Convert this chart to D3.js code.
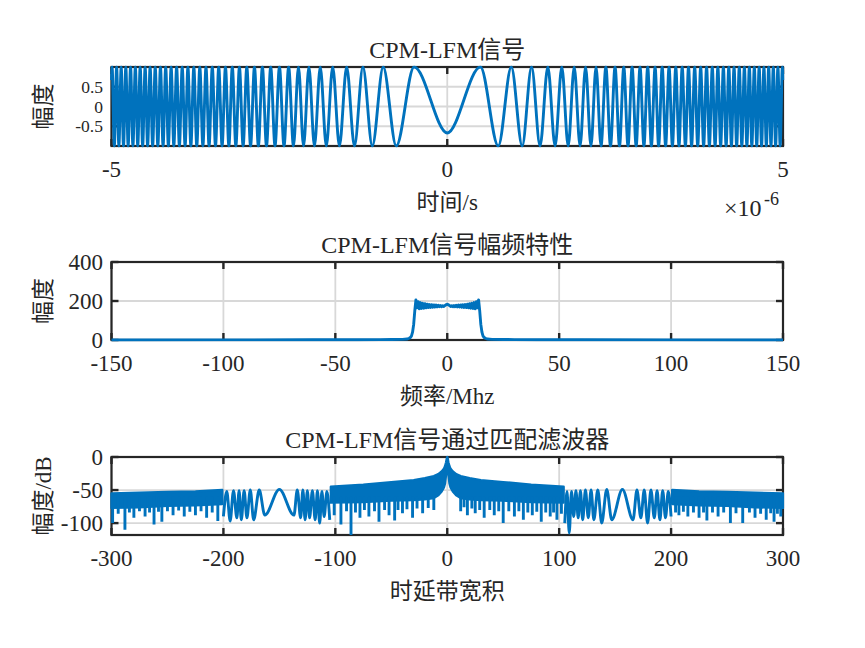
<!DOCTYPE html>
<html><head><meta charset="utf-8">
<script src="https://cdn.jsdelivr.net/npm/d3@7/dist/d3.min.js"></script>
<style>
body{margin:0;background:#fff}
svg{display:block}
text{font-family:"Liberation Serif","Times New Roman","Noto Sans CJK SC",serif;fill:#262626}
</style>
</head><body><svg id="c" width="865" height="648"></svg>
<script>
// ---------------- DATA ----------------
// Panel 1: CPM-LFM signal, extremum times (µs, positive side; mirrored) and values
const topExtT = [0.494,0.760,0.954,1.116,1.256,1.382,1.498,1.606,1.706,1.801,
  1.891,1.978,2.060,2.140,2.216,2.290,2.362,2.431,2.499,2.565,
  2.629,2.692,2.753,2.813,2.871,2.929,2.985,3.040,3.095,3.148,
  3.201,3.252,3.303,3.353,3.403,3.451,3.499,3.547,3.593,3.639,
  3.685,3.730,3.774,3.818,3.862,3.904,3.947,3.989,4.030,4.072,
  4.112,4.153,4.193,4.232,4.271,4.310,4.349,4.387,4.425,4.462,
  4.499,4.536,4.573,4.609,4.645,4.681,4.716,4.752,4.787,4.821,
  4.856,4.890,4.924,4.958,4.991];
const topExtV = [1,-1,1,-1,1,-1,1,-1,1,-1, 1,-1,1,-1,1,-1,1,-1,1,-1,
  1,-1,1,-1,1,-1,1,-1,1,-1, 1,-1,1,-1,1,-1,1,-1,1,-1,
  1,-1,1,-1,1,-1,1,-1,1,-1, 1,-1,1,-1,1,-1,1,-1,1,-1,
  1,-1,1,-1,1,-1,1,-1,1,-1, 1,-1,1,-1,1];
const topCenter = [0, -0.67];
const topEdge = [5, 0.67];
const topXTicks = [-5, 0, 5];
const topYTicks = [-0.5, 0, 0.5];

// Panel 2: amplitude spectrum [MHz, amplitude]
const spectrum = [[-150,0],[-100,0.5],[-60,1],[-40,1.5],[-30,2],[-25,2.5],[-20,3],[-18,5],[-17,9],[-16.5,13],
  [-16,20],[-15.5,40],[-15,80],[-14.5,150],[-14,205],[-13.5,165],[-13,196],[-12.5,160],[-12,192],[-11.5,162],
  [-11,188],[-10.5,163],[-10,186],[-9.5,165],[-9,184],[-8.5,166],[-8,182],[-7.5,167],[-7,181],[-6.5,168],
  [-6,180],[-5.5,169],[-5,179],[-4.5,170],[-4,178],[-3.5,171],[-3,177],[-2.5,171],[-2,176],[-1.5,172],
  [-1,177],[-0.5,181],[0,183],[0.5,181],[1,177],[1.5,172],[2,176],[2.5,171],[3,177],[3.5,171],
  [4,178],[4.5,170],[5,179],[5.5,169],[6,180],[6.5,168],[7,181],[7.5,167],[8,182],[8.5,166],
  [9,184],[9.5,165],[10,186],[10.5,163],[11,188],[11.5,162],[12,192],[12.5,160],[13,196],[13.5,165],
  [14,205],[14.5,150],[15,80],[15.5,40],[16,20],[16.5,13],[17,9],[18,5],[20,3],[25,2.5],
  [30,2],[40,1.5],[60,1],[100,0.5],[150,0]];
const midXTicks = [-150,-100,-50,0,50,100,150];
const midYTicks = [0,200,400];

// Panel 3: matched filter output (dB). Dense band [x, upper, lower] (x>=0, mirrored)
const mfBandInner = [[0,0,-4],[0.5,-3,-12],[1,-8,-26],[2,-14,-40],[3,-18,-46],[5,-22,-52],[8,-26,-58],
  [12,-29,-62],[20,-32,-64],[30,-35,-65],[50,-38,-66],[75,-42,-68],[104,-45,-69]];
const mfBandOuter = [[201,-50,-71],[225,-52,-73],[250,-53,-74],[275,-54,-76],[300,-55,-77]];
const mfArchesRight = [[105,-100],[107,-52],[109,-115],[111,-52],[113,-90],[115,-51],[117,-92],[119,-51],
  [121,-95],[123.5,-50],[126,-92],[128.5,-50],[131,-95],[134.5,-50],[138,-100],[142.5,-49],[147,-95],
  [156.5,-49],[166,-95],[169.5,-50],[173,-92],[176,-50],[179,-100],[182,-50],[185,-92],[187.5,-51],
  [190,-95],[192.5,-51],[195,-92],[197.5,-52],[200,-90]];
const mfArchesLeft = [[-200,-90],[-197,-52],[-194,-97],[-191,-51],[-188,-92],[-186,-51],[-184,-95],
  [-181.5,-51],[-179,-92],[-176,-50],[-173,-95],[-168,-50],[-163,-88],[-150,-49],[-137,-88],[-134,-50],
  [-131,-92],[-129,-50],[-127,-95],[-125,-51],[-123,-92],[-120.5,-51],[-118,-95],[-116,-51],[-114,-100],
  [-112,-52],[-110,-90],[-107.5,-52],[-105,-95]];
const mfSpikes = [[-299,-100],[-294,-86],[-288,-110],[-284,-84],[-280,-92],[-275,-82],[-270,-90],[-266,-84],
  [-262,-102],[-258,-83],[-255,-98],[-250,-82],[-245,-88],[-240,-81],[-235,-90],[-230,-83],[-225,-88],
  [-220,-82],[-215,-92],[-210,-84],[-205,-97],[-101,-88],[-95,-102],[-90,-82],[-86,-118],[-82,-84],
  [-78,-92],[-74,-80],[-70,-90],[-65,-82],[-61,-98],[-56,-80],[-52,-88],[-47,-96],[-44,-80],[-40,-85],
  [-36,-79],[-31,-92],[-27,-78],[-22,-85],[-17,-77],[-12,-80],[12,-82],[15,-76],[18,-88],[22,-78],
  [25,-85],[29,-80],[33,-92],[38,-80],[42,-88],[46,-82],[50,-100],[55,-82],[60,-90],[64,-82],[68,-95],
  [72,-84],[76,-88],[80,-83],[84,-98],[88,-84],[92,-90],[95,-84],[98,-95],[102,-86],[204,-84],[207,-88],
  [211,-83],[215,-90],[220,-84],[225,-92],[229,-84],[232,-96],[237,-84],[242,-90],[247,-84],[253,-100],
  [258,-85],[264,-100],[270,-84],[275,-92],[280,-86],[285,-95],[289,-85],[292,-98],[295,-86],[298,-90]];
const botXTicks = [-300,-200,-100,0,100,200,300];
const botYTicks = [-100,-50,0];

// ---------------- DRAW ----------------
const svg = d3.select('#c');
svg.append('rect').attr('width',865).attr('height',648).attr('fill','#fff');
const L = 111.5, R = 783, CX = (L+R)/2;
const BLUE = '#0072BD', AX = '#262626', GRID = '#d8d8d8';
const FS = 23, LW = 2.9;

function makeAxes(idx, top, bottom, xDom, yDom, xTicks, yTicks, title, ylabel, xlabel, yFs) {
  const x = d3.scaleLinear().domain(xDom).range([L, R]);
  const y = d3.scaleLinear().domain(yDom).range([bottom, top]);
  const g = svg.append('g');
  g.selectAll('.gx').data(xTicks).join('line')
    .attr('x1', d=>x(d)).attr('x2', d=>x(d)).attr('y1', top).attr('y2', bottom)
    .attr('stroke', GRID).attr('stroke-width', 1.8);
  g.selectAll('.gy').data(yTicks).join('line').attr('class','gy')
    .attr('x1', L).attr('x2', R).attr('y1', d=>y(d)).attr('y2', d=>y(d))
    .attr('stroke', GRID).attr('stroke-width', 1.8);
  g.append('rect').attr('x', L).attr('y', top).attr('width', R-L).attr('height', bottom-top)
    .attr('fill','none').attr('stroke', AX).attr('stroke-width', 2.2);
  const tl = 7;
  xTicks.forEach(d => {
    g.append('line').attr('x1',x(d)).attr('x2',x(d)).attr('y1',bottom).attr('y2',bottom-tl).attr('stroke',AX).attr('stroke-width',2.4);
    g.append('line').attr('x1',x(d)).attr('x2',x(d)).attr('y1',top).attr('y2',top+tl).attr('stroke',AX).attr('stroke-width',2.4);
  });
  yTicks.forEach(d => {
    g.append('line').attr('x1',L).attr('x2',L+tl).attr('y1',y(d)).attr('y2',y(d)).attr('stroke',AX).attr('stroke-width',2.4);
    g.append('line').attr('x1',R).attr('x2',R-tl).attr('y1',y(d)).attr('y2',y(d)).attr('stroke',AX).attr('stroke-width',2.4);
  });
  g.selectAll('.xl').data(xTicks).join('text')
    .attr('x', d=>x(d)).attr('y', bottom+31).attr('text-anchor','middle')
    .attr('font-size', FS).text(d=>String(d));
  g.selectAll('.yl').data(yTicks).join('text')
    .attr('x', 103).attr('y', d=>y(d)).attr('dy','0.35em').attr('text-anchor','end')
    .attr('font-size', yFs || FS).text(d=>String(d));
  g.append('text').attr('x', CX).attr('y', top-9).attr('text-anchor','middle')
    .attr('font-size', 24).attr('fill','#000').text(title);
  g.append('text').attr('transform', `translate(43,${(top+bottom)/2}) rotate(-90)`)
    .attr('text-anchor','middle').attr('dy','0.35em').attr('font-size', FS).text(ylabel);
  g.append('text').attr('x', CX).attr('y', bottom+64).attr('text-anchor','middle')
    .attr('font-size', FS).text(xlabel);
  const id = 'clip'+idx;
  svg.append('clipPath').attr('id', id).append('rect')
    .attr('x', L-1.5).attr('y', top-1.5).attr('width', R-L+3).attr('height', bottom-top+3);
  const data = svg.append('g').attr('clip-path', `url(#${id})`);
  return {x, y, data};
}

// Panel 1
{
  const a = makeAxes(1, 67, 146, [-5, 5], [-1, 1], topXTicks, topYTicks, 'CPM-LFM信号', '幅度', '时间/s', 17.5);
  const pts = [];
  pts.push([-topEdge[0], topEdge[1]]);
  for (let i = topExtT.length-1; i >= 0; i--) pts.push([-topExtT[i], topExtV[i]]);
  pts.push(topCenter);
  for (let i = 0; i < topExtT.length; i++) pts.push([topExtT[i], topExtV[i]]);
  pts.push(topEdge);
  const line = d3.line().x(d=>a.x(d[0])).y(d=>a.y(d[1])).curve(d3.curveMonotoneX);
  a.data.append('path').attr('d', line(pts)).attr('fill','none').attr('stroke',BLUE)
    .attr('stroke-width',LW).attr('stroke-linejoin','round');
  svg.append('text').attr('x', 724).attr('y', 216).attr('font-size', 24).text('×10');
  svg.append('text').attr('x', 764).attr('y', 205).attr('font-size', 18).text('-6');
}

// Panel 2
{
  const a = makeAxes(2, 262, 340, [-150, 150], [0, 400], midXTicks, midYTicks, 'CPM-LFM信号幅频特性', '幅度', '频率/Mhz');
  const line = d3.line().x(d=>a.x(d[0])).y(d=>a.y(d[1]));
  a.data.append('path').attr('d', line(spectrum)).attr('fill','none').attr('stroke',BLUE)
    .attr('stroke-width',LW).attr('stroke-linejoin','round');
}

// Panel 3
{
  const a = makeAxes(3, 457, 535, [-300, 300], [-118, 0], botXTicks, botYTicks, 'CPM-LFM信号通过匹配滤波器', '幅度/dB', '时延带宽积');
  const area = d3.area().x(d=>a.x(d[0])).y0(d=>a.y(d[2])).y1(d=>a.y(d[1]));
  const inner = mfBandInner.slice(1).map(d=>[-d[0], d[1], d[2]]).reverse().concat(mfBandInner);
  const outerL = mfBandOuter.map(d=>[-d[0], d[1], d[2]]).reverse();
  [inner, mfBandOuter, outerL].forEach(seg => {
    a.data.append('path').attr('d', area(seg)).attr('fill', BLUE).attr('stroke', BLUE)
      .attr('stroke-width', 2.4).attr('stroke-linejoin','round');
  });
  const line = d3.line().x(d=>a.x(d[0])).y(d=>a.y(d[1])).curve(d3.curveMonotoneX);
  [mfArchesLeft, mfArchesRight].forEach(arr => {
    a.data.append('path').attr('d', line(arr)).attr('fill','none').attr('stroke',BLUE)
      .attr('stroke-width',LW).attr('stroke-linejoin','round');
  });
  a.data.selectAll('.sp').data(mfSpikes).join('line')
    .attr('x1', d=>a.x(d[0])).attr('x2', d=>a.x(d[0]))
    .attr('y1', a.y(-60)).attr('y2', d=>a.y(d[1]))
    .attr('stroke', BLUE).attr('stroke-width', LW);
}
</script>
</body></html>
